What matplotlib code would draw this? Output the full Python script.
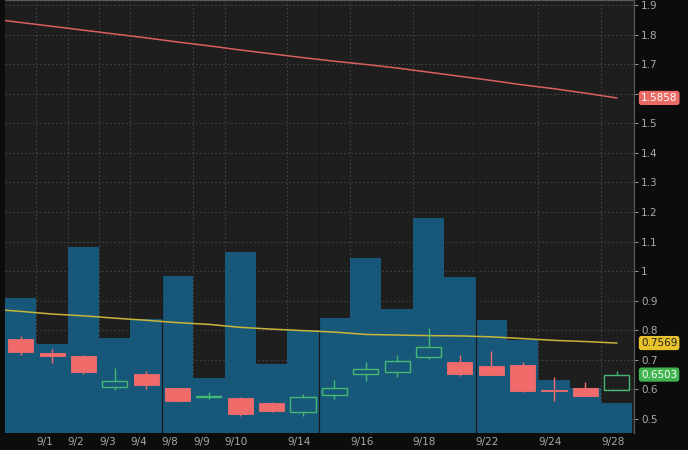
import numpy as np
import matplotlib
matplotlib.use('Agg')
import matplotlib.pyplot as plt
import matplotlib.transforms as mtrans
from matplotlib.patches import Rectangle

# ── data ───────────────────────────────────────────────────────────
dates = ['8/31', '9/1', '9/2', '9/3', '9/4', '9/8', '9/9', '9/10', '9/11', '9/14',
         '9/15', '9/16', '9/17', '9/18', '9/21', '9/22', '9/23', '9/24', '9/25', '9/28']
opens  = [0.770, 0.723, 0.713, 0.608, 0.652, 0.605, 0.574, 0.571, 0.554, 0.524,
          0.581, 0.651, 0.659, 0.710, 0.694, 0.679, 0.683, 0.596, 0.604, 0.598]
highs  = [0.781, 0.737, 0.715, 0.672, 0.662, 0.606, 0.591, 0.573, 0.556, 0.585,
          0.632, 0.694, 0.716, 0.807, 0.716, 0.730, 0.692, 0.641, 0.626, 0.663]
lows   = [0.716, 0.689, 0.652, 0.598, 0.601, 0.559, 0.568, 0.510, 0.525, 0.510,
          0.567, 0.629, 0.643, 0.703, 0.645, 0.649, 0.593, 0.562, 0.578, 0.598]
closes = [0.727, 0.713, 0.659, 0.6285, 0.615, 0.561, 0.577, 0.517, 0.527, 0.575,
          0.605, 0.669, 0.696, 0.743, 0.652, 0.649, 0.596, 0.595, 0.578, 0.6503]
volume = [13.5, 8.9, 18.6, 9.5, 11.4, 15.7, 5.5, 18.1, 6.9, 10.3,
          11.5, 17.5, 12.4, 21.5, 15.6, 11.3, 9.3, 5.3, 4.5, 3.0]   # millions
# moving averages, first value is the session before 8/31
ma_long = [1.854, 1.841, 1.828, 1.815, 1.802, 1.789, 1.775, 1.762, 1.748, 1.735, 1.722,
           1.710, 1.699, 1.687, 1.673, 1.659, 1.645, 1.630, 1.617, 1.602, 1.5858]
ma_short = [0.872, 0.864, 0.855, 0.849, 0.841, 0.834, 0.826, 0.820, 0.810, 0.804, 0.799,
            0.794, 0.786, 0.784, 0.782, 0.781, 0.778, 0.772, 0.766, 0.762, 0.7569]
labeled = ['9/1', '9/2', '9/3', '9/4', '9/8', '9/9', '9/10', '9/14',
           '9/16', '9/18', '9/22', '9/24', '9/28']
week_breaks = ['9/8', '9/15', '9/22']
price_ticks = [0.5, 0.6, 0.7, 0.8, 0.9, 1.0, 1.1, 1.2, 1.3, 1.4, 1.5, 1.6, 1.7, 1.8, 1.9]

BG     = '#1e1e1e'
OUTER  = '#0c0c0c'
VOLC   = '#17587a'
UP     = '#45b874'
DOWN   = '#f26b6b'
GRID   = '#4a4a4a'
TXT    = '#a8a8a8'

fig = plt.figure(figsize=(6.88, 4.5), dpi=100, facecolor=OUTER)
rect = [5/688, 17/450, 629/688, 433/450]
axv = fig.add_axes(rect)
ax  = axv.twinx()

x = np.arange(len(dates))
ax.set_ylim(0.4527, 1.917)
ax.set_xlim(-0.5, 19.55)

# ── grid (lives on the volume axes so the bars cover it) ──────────
axv.set_facecolor(BG)
blend = mtrans.blended_transform_factory(axv.transAxes, ax.transData)
for p in price_ticks:
    axv.plot([0, 1], [p, p], transform=blend, color=GRID,
             ls=(0, (1.5, 2.5)), lw=0.7, zorder=0.5)
grid_x = [dates.index(d) - 0.5 for d in labeled]
for gx in grid_x:
    axv.axvline(gx, color=GRID, ls=(0, (1.5, 2.5)), lw=0.7, zorder=0.5)

# ── volume ─────────────────────────────────────────────────────────
axv.bar(x, volume, width=1.0, color=VOLC, linewidth=0, zorder=1)
axv.set_ylim(0, 43.3)
axv.set_xlim(-0.5, 19.55)
axv.set_yticks([])
for d in week_breaks:
    axv.axvline(dates.index(d) - 0.5, color='#1a1a1a', lw=0.9, zorder=2)

axv.set_xticks(grid_x)
axv.set_xticklabels(labeled, ha='left')
axv.tick_params(axis='x', colors=TXT, labelsize=7.5, length=0, pad=3)

# ── price ──────────────────────────────────────────────────────────
ax.set_yticks(price_ticks)
ax.set_yticklabels(['' if p == 1.6 else f'{p:g}' for p in price_ticks])
ax.tick_params(axis='y', colors=TXT, labelsize=7.5, length=3, width=0.6, pad=2)

bw = 0.8
for i, (o, h, l, c) in enumerate(zip(opens, highs, lows, closes)):
    top, bot = max(o, c), min(o, c)
    if c >= o:
        ax.vlines(i, top, h, color=UP, lw=1.0, zorder=4)
        ax.vlines(i, l, bot, color=UP, lw=1.0, zorder=4)
        ax.add_patch(Rectangle((i - bw/2, bot), bw, max(top - bot, 0.001),
                               facecolor='none', edgecolor=UP, lw=1.0, zorder=5))
    else:
        ax.vlines(i, l, h, color=DOWN, lw=1.0, zorder=4)
        ax.add_patch(Rectangle((i - bw/2, bot), bw, max(top - bot, 0.002),
                               facecolor=DOWN, edgecolor=DOWN, lw=0.6, zorder=5))

xm = np.arange(-1, len(dates))
ax.plot(xm, ma_long, color='#d9605e', lw=1.1, zorder=3)
ax.plot(xm, ma_short, color='#c9b53a', lw=1.1, zorder=3)

# last-value tags
tags = [(ma_long[-1], '#ec6a64', '#ffffff'),
        (ma_short[-1], '#e8c22c', '#222222'),
        (closes[-1], '#3fb44e', '#ffffff')]
for val, bg, fg in tags:
    ax.annotate(f'{val:.4f}', xy=(1.0, val), xycoords=('axes fraction', 'data'),
                xytext=(5, 0), textcoords='offset points', va='center', ha='left',
                fontsize=7.5, color=fg,
                bbox=dict(boxstyle='round,pad=0.2,rounding_size=0.25', fc=bg, ec='none'))

for a in (ax, axv):
    for s in ['left', 'bottom']:
        a.spines[s].set_visible(False)
    a.spines['top'].set_color('#5a5a5a')
    a.spines['right'].set_color('#5a5a5a')
    a.spines['top'].set_linewidth(0.8)
    a.spines['right'].set_linewidth(0.8)

fig.savefig('out.png', dpi=100, facecolor=OUTER)
